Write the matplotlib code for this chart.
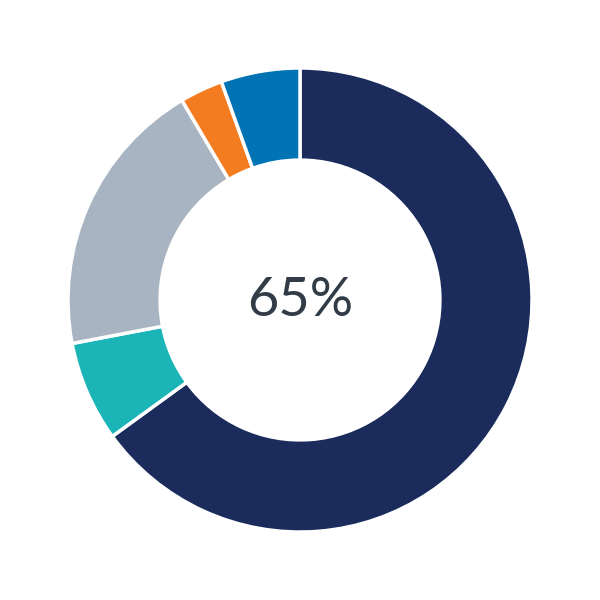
import matplotlib.pyplot as plt

# Segment shares, clockwise from 12 o'clock
labels = ['Navy', 'Teal', 'Gray', 'Orange', 'Blue']
values = [65, 7, 19.5, 3, 5.5]
colors = ['#1b2b5b', '#1bb5b7', '#a9b4c2', '#f47c20', '#0073b4']
center_label = '65%'

fig = plt.figure(figsize=(6, 6), dpi=100)
ax = fig.add_axes([0, 0, 1, 1])
ax.pie(values, colors=colors, startangle=90, counterclock=False,
       radius=1.0,
       wedgeprops=dict(width=0.397, edgecolor='white', linewidth=2.5))
ax.text(0, 0, center_label, ha='center', va='center', fontsize=39,
        family='Lato', color='#313c46')
ax.set_xlim(-1.293, 1.293)
ax.set_ylim(-1.293, 1.293)
ax.set_aspect('equal')
ax.axis('off')
fig.savefig('out.png', dpi=100, facecolor='white')
